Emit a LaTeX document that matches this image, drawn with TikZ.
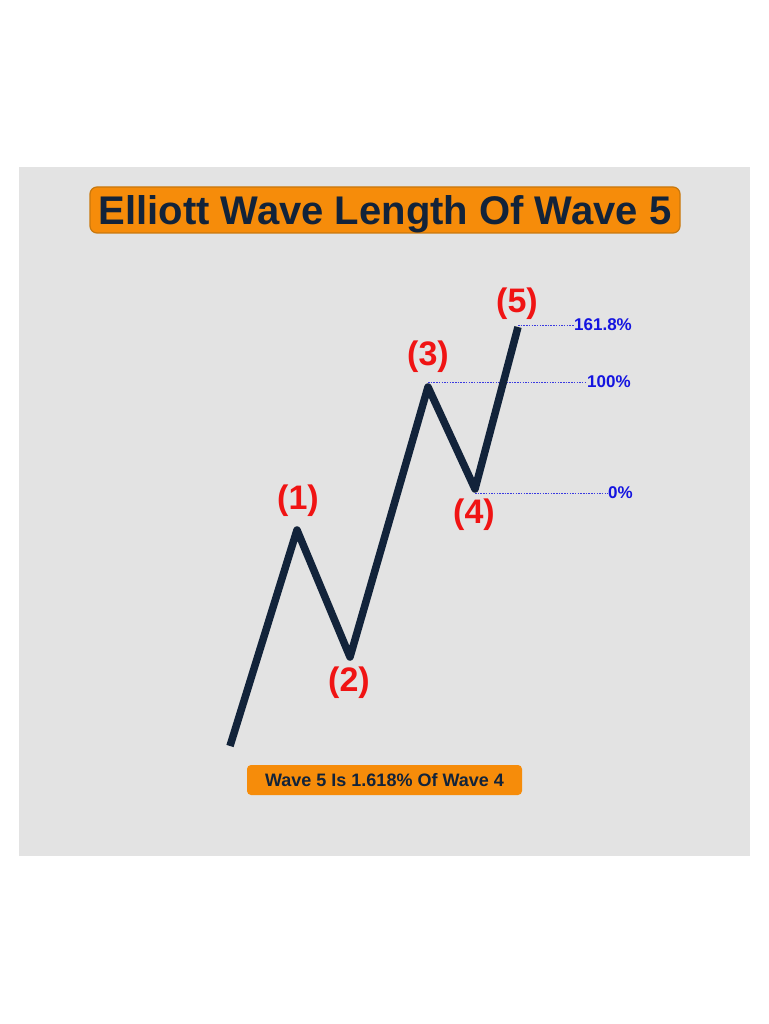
\documentclass[tikz,border=0pt]{standalone}
\usepackage{fontspec}
\setmainfont{Liberation Sans}
\definecolor{panelgray}{HTML}{E3E3E3}
\definecolor{boxorange}{HTML}{F68C0A}
\definecolor{boxedge}{HTML}{C8780E}
\definecolor{navy}{HTML}{12233A}
\definecolor{wavered}{HTML}{F01414}
\definecolor{levelblue}{HTML}{1414E0}
\definecolor{dotblue}{HTML}{3A3AE0}
\begin{document}
\begin{tikzpicture}[x=1pt,y=-1pt,
  wavelabel/.style={text=wavered,font=\fontsize{34}{34}\selectfont\bfseries,inner sep=0pt},
  levellabel/.style={text=levelblue,font=\fontsize{17}{17}\selectfont\bfseries,inner sep=0pt,anchor=west},
  levelline/.style={dotblue,line width=1pt,dash pattern=on 1.5pt off 1.2pt},
  wave/.style={navy,line width=7.5pt,line join=round,line cap=butt}]
\useasboundingbox (0,0) rectangle (768,1024);
\fill[white] (0,0) rectangle (768,1024);
\fill[panelgray] (19,167) rectangle (750,856);
% title
\node[draw=boxedge,line width=1.2pt,fill=boxorange,rounded corners=7pt,minimum width=590pt,minimum height=46pt,inner sep=0pt,
  text height=29pt,text depth=0pt,
  text=navy,font=\fontsize{40}{40}\selectfont\bfseries] (title) at (385,210) {Elliott Wave Length Of Wave 5};
% wave points
\coordinate (p0) at (230,746);
\coordinate (p1) at (297,530);
\coordinate (p2) at (350,657);
\coordinate (p3) at (428,387);
\coordinate (p4) at (475,489);
\coordinate (p5) at (518,327);
% level lines
\node[levellabel] (l161) at (574,325) {161.8\%};
\node[levellabel] (l100) at (587,382) {100\%};
\node[levellabel] (l0) at (608,493) {0\%};
\draw[levelline] (518,325) -- (l161.west);
\draw[levelline] (428,382) -- (l100.west);
\draw[levelline] (475,493) -- (l0.west);
% wave
\draw[wave] (p0) -- (p1) -- (p2) -- (p3) -- (p4) -- (p5);
% labels
\node[wavelabel] (w1) at (298,501) {(1)};
\node[wavelabel] (w2) at (349,683) {(2)};
\node[wavelabel] (w3) at (428,357) {(3)};
\node[wavelabel] (w4) at (474,515) {(4)};
\node[wavelabel] (w5) at (517,304) {(5)};
% bottom note
\node[fill=boxorange,rounded corners=4pt,minimum width=275pt,minimum height=30pt,inner sep=0pt,
  text height=13pt,text depth=0pt,
  text=navy,font=\fontsize{18}{18}\selectfont\bfseries] (note) at (384.5,780) {Wave 5 Is 1.618\% Of Wave 4};
\end{tikzpicture}
\end{document}
